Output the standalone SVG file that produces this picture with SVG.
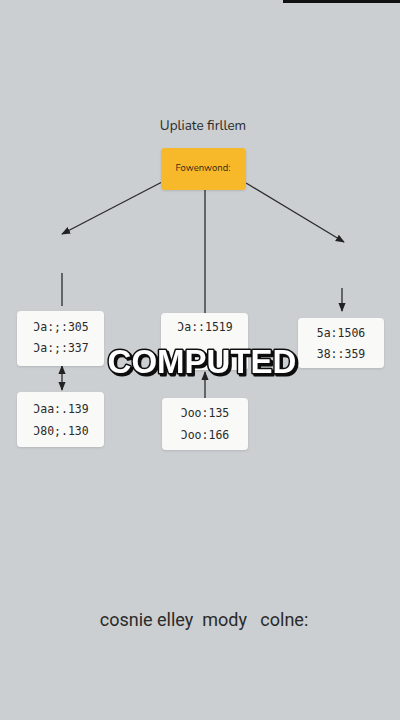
<svg xmlns="http://www.w3.org/2000/svg" width="400" height="720" viewBox="0 0 400 720">
  <defs>
    <marker id="ah" viewBox="0 0 10 10" refX="9" refY="5" markerWidth="7" markerHeight="7" orient="auto-start-reverse">
      <path d="M0,1 L10,5 L0,9 z" fill="#222"/>
    </marker>
    <filter id="sh" x="-10%" y="-10%" width="120%" height="130%">
      <feDropShadow dx="0" dy="1" stdDeviation="1" flood-color="#000" flood-opacity="0.12"/>
    </filter>
    <filter id="hard" x="-10%" y="-20%" width="120%" height="150%">
      <feDropShadow dx="2" dy="2" stdDeviation="0.4" flood-color="#111" flood-opacity="1"/>
    </filter>
  </defs>
  <style>
    .box { fill: #f9f9f7; filter: url(#sh); }
    .val { font-family: "DejaVu Sans Mono", "Liberation Mono", monospace; font-size: 11.5px; fill: #2a2a2a; text-anchor: middle; }
    .ln { stroke: #2b2b2b; stroke-width: 1.3; fill: none; }
  </style>
  <rect width="400" height="720" fill="#cbcfd1"/>
  <rect x="283" y="0" width="117" height="3" fill="#111"/>

  <text x="203" y="130" font-family="Nunito, 'Noto Sans', 'Liberation Sans', sans-serif" font-size="13.5" fill="#2a2a2a" text-anchor="middle">Upliate firllem</text>

  <g id="connectors">
    <line class="ln" x1="162" y1="182" x2="62" y2="234" marker-end="url(#ah)"/>
    <line class="ln" x1="246" y1="183" x2="344" y2="242" marker-end="url(#ah)"/>
    <line class="ln" x1="205" y1="190" x2="205" y2="313"/>
    <line class="ln" x1="62" y1="273" x2="62" y2="306"/>
    <line class="ln" x1="342" y1="288" x2="342" y2="311" marker-end="url(#ah)"/>
    <line class="ln" x1="62" y1="366" x2="62" y2="390" marker-start="url(#ah)" marker-end="url(#ah)"/>
    <line class="ln" x1="205" y1="372" x2="205" y2="398" marker-start="url(#ah)"/>
  </g>

  <g id="root">
    <rect x="161" y="148" width="85" height="42" rx="4" fill="#f7b92c" filter="url(#sh)"/>
    <text x="203" y="171" font-family="Nunito, 'Noto Sans', 'Liberation Sans', sans-serif" font-size="9.5" fill="#3a2a10" text-anchor="middle">Fowenwond:</text>
  </g>

  <g id="box-left">
    <rect class="box" x="17" y="311" width="87" height="55" rx="4"/>
    <text class="val" x="61" y="331">Ͻa:;:305</text>
    <text class="val" x="61" y="352">Ͻa:;:337</text>
  </g>
  <g id="box-center">
    <rect class="box" x="161" y="313" width="87" height="57" rx="4"/>
    <text class="val" x="205" y="331">Ͻa::1519</text>
  </g>
  <g id="box-right">
    <rect class="box" x="298" y="318" width="86" height="50" rx="4"/>
    <text class="val" x="341" y="337">5a:1506</text>
    <text class="val" x="341" y="358">38::359</text>
  </g>
  <g id="box-left-low">
    <rect class="box" x="17" y="392" width="87" height="55" rx="4"/>
    <text class="val" x="61" y="413">Ͻaa:.139</text>
    <text class="val" x="61" y="435">Ͻ80;.130</text>
  </g>
  <g id="box-center-low">
    <rect class="box" x="162" y="398" width="86" height="52" rx="4"/>
    <text class="val" x="205" y="417">Ͻoo:135</text>
    <text class="val" x="205" y="439">Ͻoo:166</text>
  </g>

  <g id="overlay">
    <text x="202" y="373" font-family="'Liberation Sans', Arial, sans-serif" font-weight="bold" font-size="33" fill="#ffffff" text-anchor="middle" stroke="#111" stroke-width="3" stroke-linejoin="round" paint-order="stroke" filter="url(#hard)">COMPUTED</text>
  </g>

  <text x="204" y="626" font-family="Roboto, 'Noto Sans', sans-serif" font-size="18" fill="#2a2a2a" text-anchor="middle" xml:space="preserve">cosnie elley  mody   colne:</text>
</svg>
